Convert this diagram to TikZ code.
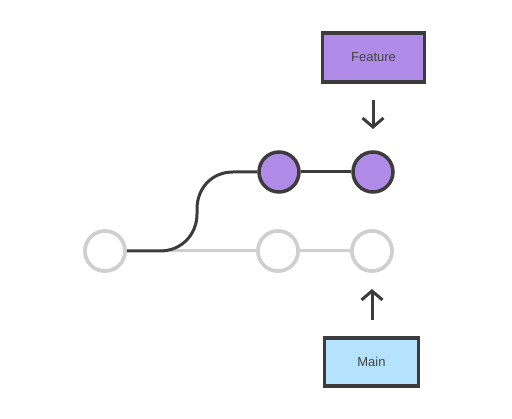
\documentclass[tikz,border=0pt]{standalone}
\usepackage{fontspec}
\setmainfont{Liberation Sans}
\usetikzlibrary{arrows.meta}
\definecolor{dark}{HTML}{3C3C3C}
\definecolor{grayc}{HTML}{CFCFCF}
\definecolor{purp}{HTML}{B08BE8}
\definecolor{lblue}{HTML}{B5E3FD}
\definecolor{txt}{HTML}{444444}
\begin{document}
\begin{tikzpicture}[x=1pt,y=-1pt,
  oldc/.style={circle,draw=grayc,line width=3.5pt,fill=white,minimum size=40pt,inner sep=0pt},
  newc/.style={circle,draw=dark,line width=3.5pt,fill=purp,minimum size=40pt,inner sep=0pt},
  label box/.style={draw=dark,line width=3.5pt,inner sep=0pt,text=txt,font=\fontsize{13}{15}\selectfont},
  pointer/.style={draw=dark,line width=3pt,-{Straight Barb[length=9pt,width=21pt,line width=3pt]}}
]
\useasboundingbox (0,0) rectangle (512,419);
% old commits
\node[oldc] (c1) at (105,251) {};
\node[oldc] (c2) at (278,251) {};
\node[oldc] (c3) at (372,251) {};
% gray main line
\draw[grayc,line width=3pt] (160,251) -- (c2.west);
\draw[grayc,line width=3pt] (c2.east) -- (c3.west);
% feature branch
\node[newc] (f1) at (279,172) {};
\node[newc] (f2) at (373,172) {};
\draw[dark,line width=3pt] (c1.east) -- (160,251) .. controls (182,251) and (197,234) .. (197,214)
  -- (197,209) .. controls (197,188) and (212,172) .. (233,172) -- (f1.west);
\draw[dark,line width=3pt] (f1.east) -- (f2.west);
% redraw circles on top
\node[oldc] at (105,251) {};
\node[oldc] at (278,251) {};
\node[oldc] at (372,251) {};
% labels
\node[label box,fill=purp,minimum width=102pt,minimum height=49pt] (feat) at (373.5,57.5) {Feature};
\node[label box,fill=lblue,minimum width=94pt,minimum height=48pt] (main) at (371.5,362) {Main};
\coordinate (fa) at (373,100);
\coordinate (fb) at (373,129);
\coordinate (ma) at (372,320);
\coordinate (mb) at (372,289);
\draw[pointer] (fa) -- (fb);
\draw[pointer] (ma) -- (mb);
\end{tikzpicture}
\end{document}
